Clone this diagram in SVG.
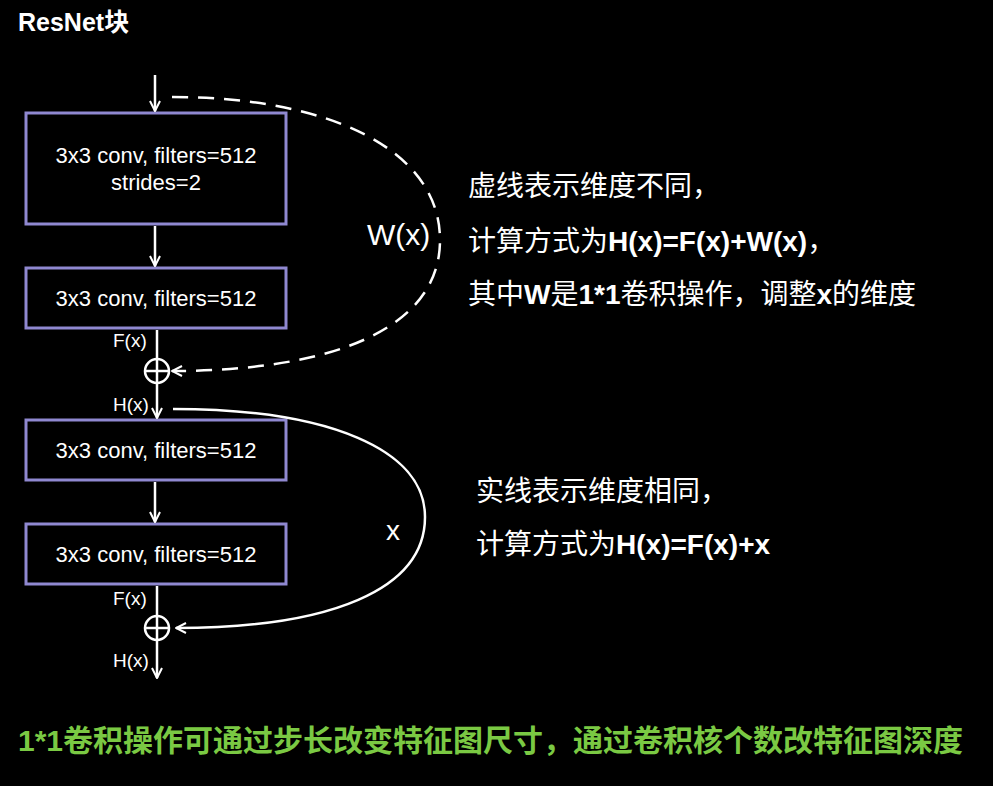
<svg xmlns="http://www.w3.org/2000/svg" width="993" height="786" viewBox="0 0 993 786">
<style>
.box{fill:#000;stroke:#8f88d0;stroke-width:3}
.t{font-family:"Liberation Sans",Arial,sans-serif;fill:#fff}
.c{font-family:"Liberation Sans","Noto Sans CJK SC",sans-serif;fill:#fff}
.ln{stroke:#fff;stroke-width:2.5;fill:none}
.b{font-weight:bold}
</style>
<defs>
<marker id="a" viewBox="0 0 12 12" refX="11" refY="6" markerWidth="12" markerHeight="12" markerUnits="userSpaceOnUse" orient="auto"><path d="M1,1 L11,6 L1,11" fill="none" stroke="#fff" stroke-width="2"/></marker>
</defs>
<rect width="993" height="786" fill="#000"/>
<text x="18" y="31" class="c" font-size="25" font-weight="bold">ResNet块</text>
<g id="n1"><rect class="box" x="26" y="113" width="260" height="111"/><text class="t" font-size="22" text-anchor="middle" x="156" y="163">3x3 conv, filters=512</text><text class="t" font-size="22" text-anchor="middle" x="156" y="190">strides=2</text></g>
<g id="n2"><rect class="box" x="26" y="268" width="260" height="60"/><text class="t" font-size="22" text-anchor="middle" x="156" y="306">3x3 conv, filters=512</text></g>
<g id="n3"><rect class="box" x="26" y="420" width="260" height="60"/><text class="t" font-size="22" text-anchor="middle" x="156" y="458">3x3 conv, filters=512</text></g>
<g id="n4"><rect class="box" x="26" y="524" width="260" height="60"/><text class="t" font-size="22" text-anchor="middle" x="156" y="562">3x3 conv, filters=512</text></g>
<g id="s1"><circle cx="157" cy="371" r="12" class="ln" stroke-width="3"/><path d="M145,371H169" class="ln"/></g>
<g id="s2"><circle cx="157" cy="628" r="12" class="ln" stroke-width="3"/><path d="M145,628H169" class="ln"/></g>
<g id="edges">
<path class="ln" d="M155,75V111" marker-end="url(#a)"/>
<path class="ln" d="M155,226V266" marker-end="url(#a)"/>
<path class="ln" d="M157,330V383"/>
<path class="ln" d="M157,383V418" marker-end="url(#a)"/>
<path class="ln" d="M155,482V522" marker-end="url(#a)"/>
<path class="ln" d="M157,586V640"/>
<path class="ln" d="M157,640V678" marker-end="url(#a)"/>
<path class="ln" stroke-width="3.5" stroke-dasharray="16,10" d="M172,97 C330,97 440,150 440,240 C440,330 330,371 172,371" marker-end="url(#a)"/>
<path class="ln" d="M173,409 C330,409 425,450 425,517 C425,590 330,628 176,628" marker-end="url(#a)"/>
</g>
<text class="t" font-size="19" x="113" y="347">F(x)</text>
<text class="t" font-size="19" x="113" y="411">H(x)</text>
<text class="t" font-size="19" x="113" y="605">F(x)</text>
<text class="t" font-size="19" x="113" y="667">H(x)</text>
<text class="t" font-size="30" x="367" y="245">W(x)</text>
<text class="t" font-size="28" x="386" y="540">x</text>
<g class="c" font-size="28">
<text x="468" y="196">虚线表示维度不同，</text>
<text x="468" y="251">计算方式为<tspan class="b">H(x)=F(x)+W(x)</tspan>，</text>
<text x="468" y="304">其中<tspan class="b">W</tspan>是<tspan class="b">1*1</tspan>卷积操作，调整<tspan class="b">x</tspan>的维度</text>
<text x="476" y="501">实线表示维度相同，</text>
<text x="476" y="554">计算方式为<tspan class="b">H(x)=F(x)+x</tspan></text>
</g>
<text x="18" y="751" class="c" font-size="30" font-weight="bold" style="fill:#7ac943">1*1卷积操作可通过步长改变特征图尺寸，通过卷积核个数改特征图深度</text>
</svg>
